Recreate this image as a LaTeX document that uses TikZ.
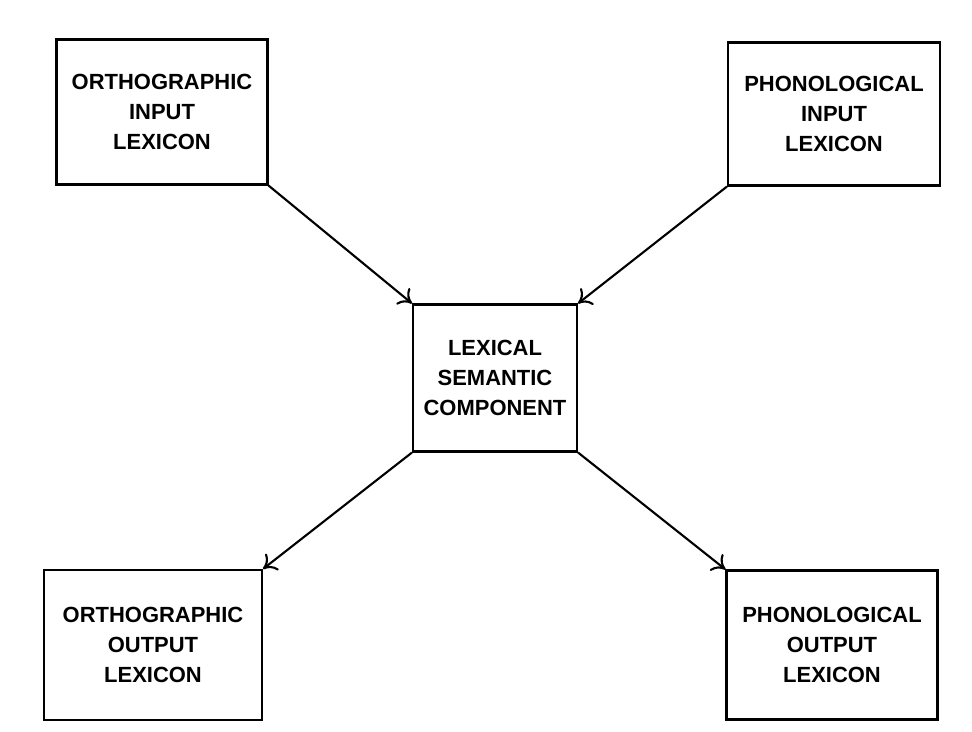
\documentclass[tikz,border=0pt]{standalone}
\usepackage{fontspec}
\setmainfont{Liberation Sans}
\usetikzlibrary{arrows.meta}
\begin{document}
\begin{tikzpicture}[x=0.02cm,y=-0.02cm,
  box/.style={draw,line width=1.2pt,inner sep=0pt,align=center,font=\bfseries\fontsize{12.5}{17}\selectfont},
  conn/.style={line width=1.2pt,-{To[length=7pt,width=12pt]}}]
\useasboundingbox (0,0) rectangle (972,732);
\node[box,minimum width=4.22cm,minimum height=2.9cm] (ti) at (162,112) {ORTHOGRAPHIC\\INPUT\\LEXICON};
\node[box,minimum width=4.24cm,minimum height=2.86cm] (pi) at (834,114) {PHONOLOGICAL\\INPUT\\LEXICON};
\node[box,minimum width=3.28cm,minimum height=2.94cm] (c) at (495,378) {LEXICAL\\SEMANTIC\\COMPONENT};
\node[box,minimum width=4.36cm,minimum height=3.0cm] (to) at (153,645) {ORTHOGRAPHIC\\OUTPUT\\LEXICON};
\node[box,minimum width=4.22cm,minimum height=2.98cm] (po) at (832,645) {PHONOLOGICAL\\OUTPUT\\LEXICON};
\draw[conn] (ti.south east) -- (c.north west);
\draw[conn] (pi.south west) -- (c.north east);
\draw[conn] (c.south west) -- (to.north east);
\draw[conn] (c.south east) -- (po.north west);
\end{tikzpicture}
\end{document}
